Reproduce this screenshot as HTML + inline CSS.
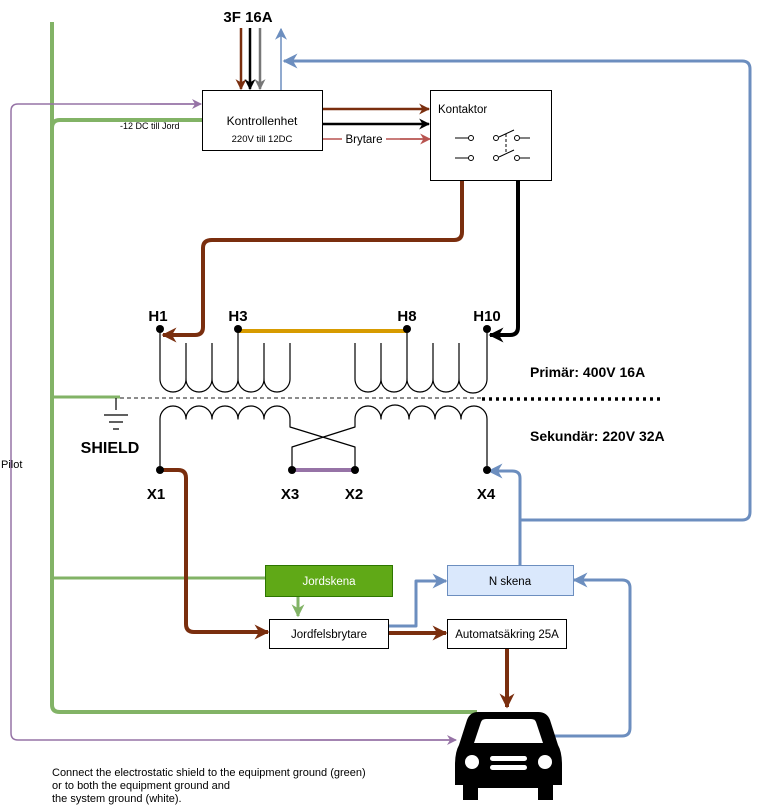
<!DOCTYPE html>
<html><head><meta charset="utf-8"><style>
body{margin:0;background:#fff}
svg{display:block;font-family:"Liberation Sans",Arial,sans-serif}
</style></head><body>
<svg width="761" height="805" viewBox="0 0 761 805" xmlns="http://www.w3.org/2000/svg">
<defs>
<marker id="ab" viewBox="0 0 10 10" refX="9" refY="5" markerUnits="userSpaceOnUse" markerWidth="15" markerHeight="15" orient="auto"><path d="M0,0 L10,5 L0,10 L3,5z" fill="#7a2e0e"/></marker>
<marker id="ab2" viewBox="0 0 10 10" refX="9" refY="5" markerUnits="userSpaceOnUse" markerWidth="11" markerHeight="11" orient="auto"><path d="M0,0 L10,5 L0,10 L3,5z" fill="#7a2e0e"/></marker>
<marker id="ak" viewBox="0 0 10 10" refX="9" refY="5" markerUnits="userSpaceOnUse" markerWidth="15" markerHeight="15" orient="auto"><path d="M0,0 L10,5 L0,10 L3,5z" fill="#000"/></marker>
<marker id="ak2" viewBox="0 0 10 10" refX="9" refY="5" markerUnits="userSpaceOnUse" markerWidth="11" markerHeight="11" orient="auto"><path d="M0,0 L10,5 L0,10 L3,5z" fill="#000"/></marker>
<marker id="ag" viewBox="0 0 10 10" refX="9" refY="5" markerUnits="userSpaceOnUse" markerWidth="11" markerHeight="11" orient="auto"><path d="M0,0 L10,5 L0,10 L3,5z" fill="#777"/></marker>
<marker id="au" viewBox="0 0 10 10" refX="9" refY="5" markerUnits="userSpaceOnUse" markerWidth="15" markerHeight="15" orient="auto"><path d="M0,0 L10,5 L0,10 L3,5z" fill="#6c8ebf"/></marker>
<marker id="au2" viewBox="0 0 10 10" refX="9" refY="5" markerUnits="userSpaceOnUse" markerWidth="12" markerHeight="12" orient="auto"><path d="M0,0 L10,5 L0,10 L3,5z" fill="#6c8ebf"/></marker>
<marker id="ap" viewBox="0 0 10 10" refX="9" refY="5" markerUnits="userSpaceOnUse" markerWidth="10" markerHeight="10" orient="auto"><path d="M0,0 L10,5 L0,10 L3,5z" fill="#9673a6"/></marker>
<marker id="ar" viewBox="0 0 10 10" refX="9" refY="5" markerUnits="userSpaceOnUse" markerWidth="11" markerHeight="11" orient="auto"><path d="M0,0 L10,5 L0,10 L3,5z" fill="#b85450"/></marker>
<marker id="agr" viewBox="0 0 10 10" refX="9" refY="5" markerUnits="userSpaceOnUse" markerWidth="13" markerHeight="13" orient="auto"><path d="M0,0 L10,5 L0,10 L3,5z" fill="#82b366"/></marker>
</defs>
<g fill="none" stroke-linejoin="round">
<path d="M52,22 V705 Q52,712 60,712 H477" stroke="#82b366" stroke-width="4"/>
<path d="M52,128 Q52,120 60,120 H202" stroke="#82b366" stroke-width="4"/>
<path d="M52,397 H120" stroke="#82b366" stroke-width="3"/>
<path d="M52,578 H265" stroke="#82b366" stroke-width="3"/>
<path d="M298,596 V616" stroke="#82b366" stroke-width="3" marker-end="url(#agr)"/>
<path d="M200,104 H18 Q11,104 11,111 V733 Q11,740 18,740 H455" stroke="#9673a6" stroke-width="1.5"/>
<path d="M150,104 H201" stroke="#9673a6" stroke-width="1.5" marker-end="url(#ap)"/>
<path d="M300,740 H456" stroke="#9673a6" stroke-width="1.5" marker-end="url(#ap)"/>
<path d="M241,28 V89" stroke="#7a2e0e" stroke-width="2.5" marker-end="url(#ab2)"/>
<path d="M250,28 V89" stroke="#000" stroke-width="2.5" marker-end="url(#ak2)"/>
<path d="M260,28 V89" stroke="#777" stroke-width="2.5" marker-end="url(#ag)"/>
<path d="M281,90 V29" stroke="#6c8ebf" stroke-width="1.5" marker-end="url(#au2)"/>
<path d="M520,565 V478 Q520,471 512,471 H489" stroke="#6c8ebf" stroke-width="3" marker-end="url(#au)"/>
<path d="M520,520 H742 Q750,520 750,512 V69 Q750,61 742,61 H284" stroke="#6c8ebf" stroke-width="3" marker-end="url(#au)"/>
<path d="M322,109 H429" stroke="#7a2e0e" stroke-width="2.5" marker-end="url(#ab2)"/>
<path d="M322,124 H429" stroke="#000" stroke-width="2.5" marker-end="url(#ak2)"/>
<path d="M322,139 H342 M386,139 H428" stroke="#b85450" stroke-width="1.5"/>
<path d="M400,139 H430" stroke="#b85450" stroke-width="1.5" marker-end="url(#ar)"/>
<path d="M462,180 V232 Q462,240 454,240 H212 Q203,240 203,248 V327 Q203,335 195,335 H163" stroke="#7a2e0e" stroke-width="4" marker-end="url(#ab)"/>
<path d="M518,180 V327 Q518,335 510,335 H490" stroke="#000" stroke-width="4" marker-end="url(#ak)"/>
<path d="M238,331 H407" stroke="#d79b00" stroke-width="4"/>
<path d="M292,470 H355" stroke="#9673a6" stroke-width="4"/>
<g stroke="#000" stroke-width="1.2">
<path d="M160,329 V379 A13,13 0 0 0 186,379 A13,13 0 0 0 212,379 A13,13 0 0 0 238,379 A13,13 0 0 0 264,379 A13,13 0 0 0 290,379 V343"/>
<path d="M186,379 V343 M212,379 V343 M238,379 V329 M264,379 V343"/>
<path d="M355,343 V379 A13,13 0 0 0 381,379 A13,13 0 0 0 407,379 A13,13 0 0 0 433,379 A13,13 0 0 0 459,379 A13,13 0 0 0 487,379 V329"/>
<path d="M381,379 V343 M407,379 V329 M433,379 V343 M459,379 V343"/>
<path d="M160,470 V419 A13,13 0 0 1 186,419 A13,13 0 0 1 212,419 A13,13 0 0 1 238,419 A13,13 0 0 1 264,419 A13,13 0 0 1 290,419 V427 L355,447 V470"/>
<path d="M487,470 V419 A13,13 0 0 0 461,419 A13,13 0 0 0 435,419 A13,13 0 0 0 409,419 A13,13 0 0 0 381,419 A13,13 0 0 0 355,419 V427 L292,447 V470"/>
<path d="M116,398 V410 M104,415 H128 M109,422 H123 M113,429 H119"/>
</g>
<path d="M120,398 H482" stroke="#666" stroke-width="1.5" stroke-dasharray="4,3"/>
<path d="M482,399 H660" stroke="#000" stroke-width="3.5" stroke-dasharray="3,4"/>
<path d="M160,470 H178 Q186,470 186,478 V624 Q186,632 194,632 H268" stroke="#7a2e0e" stroke-width="4" marker-end="url(#ab)"/>
<path d="M388,626 H416 V581 H446" stroke="#6c8ebf" stroke-width="3" marker-end="url(#au)"/>
<path d="M388,633 H446" stroke="#7a2e0e" stroke-width="4" marker-end="url(#ab)"/>
<path d="M507,648 V707" stroke="#7a2e0e" stroke-width="4" marker-end="url(#ab)"/>
<path d="M548,736 H622 Q630,736 630,728 V588 Q630,580 622,580 H574" stroke="#6c8ebf" stroke-width="3" marker-end="url(#au)"/>
</g>
<g fill="#000">
<circle cx="160" cy="329" r="4"/><circle cx="238" cy="329" r="4"/><circle cx="407" cy="329" r="4"/><circle cx="487" cy="329" r="4"/>
<circle cx="160" cy="470" r="4"/><circle cx="292" cy="470" r="4"/><circle cx="355" cy="470" r="4"/><circle cx="487" cy="470" r="4"/>
</g>
<rect x="202.5" y="90.5" width="120" height="60" fill="#fff" stroke="#000"/>
<rect x="430.5" y="90.5" width="121" height="90" fill="#fff" stroke="#000"/>
<g stroke="#000" stroke-width="1" fill="#fff">
<path d="M455,138 H468 M499,137 L514,130 M520,138 H530 M455,158 H468 M499,157 L514,150 M520,158 H530" fill="none"/>
<path d="M506,134 V154" stroke-dasharray="3,2" fill="none"/>
<circle cx="471" cy="138" r="2.5"/><circle cx="496" cy="138" r="2.5"/><circle cx="517" cy="138" r="2.5"/>
<circle cx="471" cy="158" r="2.5"/><circle cx="496" cy="158" r="2.5"/><circle cx="517" cy="158" r="2.5"/>
</g>
<rect x="265.5" y="565.5" width="127" height="31" fill="#60a917" stroke="#2d7600"/>
<rect x="269.5" y="619.5" width="119" height="29" fill="#fff" stroke="#000"/>
<rect x="447.5" y="565.5" width="126" height="30" fill="#dae8fc" stroke="#6c8ebf"/>
<rect x="447.5" y="619.5" width="119" height="29" fill="#fff" stroke="#000"/>
<g fill="#000">
<path d="M478,712 H538 Q547,712 550,720 L558,745 Q562,752 562,765 V785 H553 V800 H538 V788 H478 V800 H463 V785 H455 V765 Q455,752 459,745 L467,720 Q470,712 478,712z"/>
</g>
<path d="M474,743 L481,722 Q482,719 486,719 H531 Q535,719 536,722 L543,743z" fill="#fff"/>
<circle cx="472" cy="762" r="7" fill="#fff"/><circle cx="545" cy="762" r="7" fill="#fff"/>
<rect x="490" y="756" width="37" height="5" rx="2.5" fill="#fff"/><rect x="490" y="765" width="37" height="5" rx="2.5" fill="#fff"/>
<g font-size="11" fill="#000">
<text x="248" y="22" font-size="15" font-weight="bold" text-anchor="middle">3F 16A</text>
<text x="262" y="125" font-size="12" text-anchor="middle">Kontrollenhet</text>
<text x="262" y="142" font-size="9.5" text-anchor="middle">220V till 12DC</text>
<text x="120" y="129" font-size="9">-12 DC till Jord</text>
<text x="438" y="113" font-size="11.5">Kontaktor</text>
<text x="364" y="143" font-size="11.5" text-anchor="middle">Brytare</text>
<g font-size="15" font-weight="bold" text-anchor="middle">
<text x="158" y="321">H1</text><text x="238" y="321">H3</text><text x="407" y="321">H8</text><text x="487" y="321">H10</text>
<text x="156" y="499">X1</text><text x="290" y="499">X3</text><text x="354" y="499">X2</text><text x="486" y="499">X4</text>
<text x="110" y="453" font-size="16">SHIELD</text>
</g>
<text x="530" y="377" font-size="14" font-weight="bold">Primär: 400V 16A</text>
<text x="530" y="441" font-size="14" font-weight="bold">Sekundär: 220V 32A</text>
<text x="1" y="468" font-size="11">Pilot</text>
<text x="329" y="585" font-size="11.5" fill="#fff" text-anchor="middle">Jordskena</text>
<text x="329" y="638" font-size="11.5" text-anchor="middle">Jordfelsbrytare</text>
<text x="510" y="585" font-size="11.5" text-anchor="middle">N skena</text>
<text x="507" y="638" font-size="11.5" text-anchor="middle">Automatsäkring 25A</text>
<text x="52" y="776" font-size="11">Connect the electrostatic shield to the equipment ground (green)</text>
<text x="52" y="789" font-size="11">or to both the equipment ground and</text>
<text x="52" y="802" font-size="11">the system ground (white).</text>
</g>
</svg>
</body></html>
